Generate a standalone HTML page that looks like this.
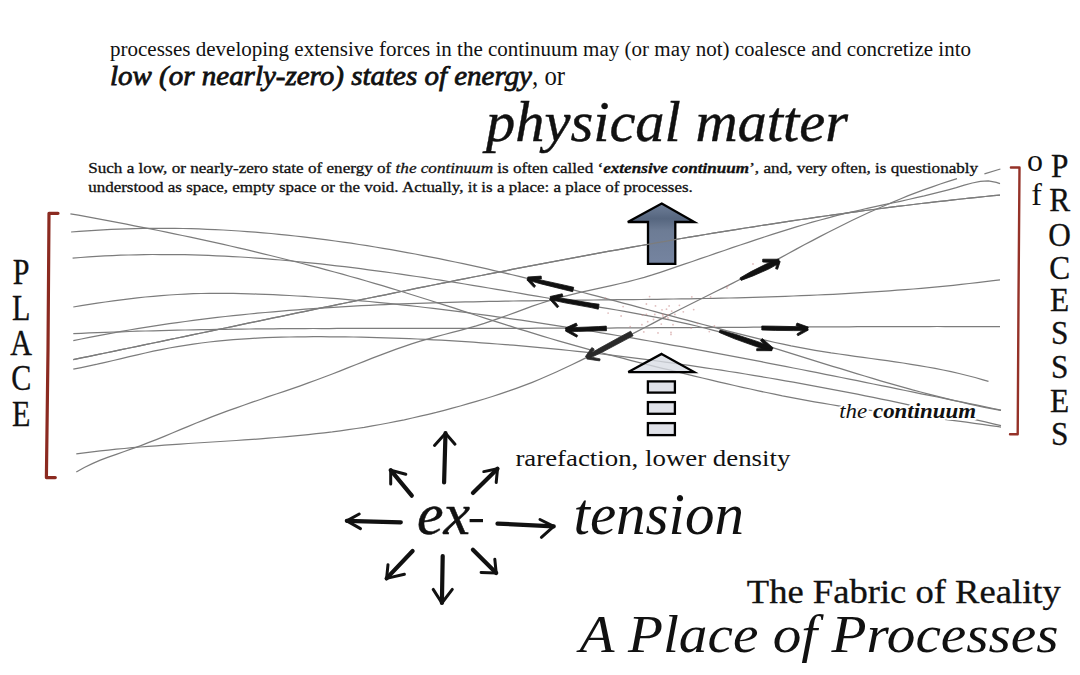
<!DOCTYPE html>
<html><head><meta charset="utf-8"><style>
html,body{margin:0;padding:0;background:#fff;width:1080px;height:675px;overflow:hidden;}
svg{display:block;}
text{font-family:"Liberation Serif",serif;fill:#111;}
</style></head><body>
<svg width="1080" height="675" viewBox="0 0 1080 675">
<rect width="1080" height="675" fill="#fff"/>

<text x="110" y="56.4" font-size="20.5" textLength="861" lengthAdjust="spacingAndGlyphs">processes developing extensive forces in the continuum may (or may not) coalesce and concretize into</text>
<text x="110" y="84.9" font-size="28" font-style="italic" textLength="422" lengthAdjust="spacingAndGlyphs" stroke="#111" stroke-width="0.8">low (or nearly-zero) states of energy</text>
<text x="532" y="84.9" font-size="28" textLength="33" lengthAdjust="spacingAndGlyphs">, or</text>
<text x="486" y="140.6" font-size="56" font-style="italic" textLength="362" lengthAdjust="spacingAndGlyphs" stroke="#111" stroke-width="0.4">physical matter</text>
<text x="88.2" y="172.8" font-size="15" textLength="890" stroke="#111" stroke-width="0.3" lengthAdjust="spacingAndGlyphs">Such a low, or nearly-zero state of energy of <tspan font-style="italic">the continuum</tspan> is often called ‘<tspan font-weight="bold" font-style="italic">extensive continuum</tspan>’, and, very often, is questionably</text>
<text x="88.2" y="191.9" font-size="15" textLength="604.6" stroke="#111" stroke-width="0.3" lengthAdjust="spacingAndGlyphs">understood as space, empty space or the void. Actually, it is a place: a place of processes.</text>
<g fill="none" stroke="#7c7c7c" stroke-width="1.25">
<path d="M70.4 213.8 L78.4 215.2 L86.4 216.7 L94.4 218.2 L102.4 219.6 L110.4 221.1 L118.4 222.7 L126.4 224.2 L134.4 225.8 L142.4 227.3 L150.4 228.9 L158.4 230.5 L166.4 232.2 L174.4 233.8 L182.4 235.5 L190.4 237.2 L198.4 238.9 L206.4 240.7 L214.4 242.4 L222.4 244.2 L230.4 246.0 L238.4 247.9 L246.4 249.7 L254.4 251.6 L262.4 253.6 L270.4 255.5 L278.4 257.5 L286.4 259.5 L294.4 261.5 L302.4 263.5 L310.4 265.6 L318.4 267.7 L326.4 269.9 L334.4 272.0 L342.4 274.2 L350.4 276.5 L358.4 278.7 L366.4 281.0 L374.4 283.3 L382.4 285.7 L390.4 288.1 L398.4 290.5 L406.4 293.0 L414.4 295.5 L422.4 298.0 L430.4 300.5 L438.4 303.1 L446.4 305.7 L454.4 308.2 L462.4 310.8 L470.4 313.4 L478.4 316.0 L486.4 318.6 L494.4 321.2 L502.4 323.7 L510.4 326.2 L518.4 328.8 L526.4 331.2 L534.4 333.7 L542.4 336.1 L550.4 338.5 L558.4 340.8 L566.4 343.1 L574.4 345.4 L582.4 347.6 L590.4 349.8 L598.4 352.0 L606.4 354.1 L614.4 356.2 L622.4 358.2 L630.4 360.3 L638.4 362.3 L646.4 364.3 L654.4 366.3 L662.4 368.3 L670.4 370.2 L678.4 372.2 L686.4 374.2 L694.4 376.1 L702.4 378.0 L710.4 379.9 L718.4 381.8 L726.4 383.6 L734.4 385.5 L742.4 387.3 L750.4 389.0 L758.4 390.8 L766.4 392.5 L774.4 394.1 L782.4 395.8 L790.4 397.3 L798.4 398.9 L806.4 400.4 L814.4 401.8 L822.4 403.2 L830.4 404.5 L838.4 405.8 L846.4 407.0 L854.4 408.1 L862.4 409.3 L870.4 410.3 L878.4 411.4 L886.4 412.4 L894.4 413.4 L902.4 414.4 L910.4 415.3 L918.4 416.3 L926.4 417.3 L934.4 418.2 L942.4 419.2 L950.4 420.2 L958.4 421.2 L966.4 422.2 L974.4 423.3 L982.4 424.4 L990.4 425.6 L998.4 426.7 L1001.0 427.1"/>
<path d="M71.1 232.0 L79.1 231.4 L87.1 230.8 L95.1 230.3 L103.1 229.8 L111.1 229.4 L119.1 229.1 L127.1 228.8 L135.1 228.6 L143.1 228.4 L151.1 228.3 L159.1 228.3 L167.1 228.3 L175.1 228.4 L183.1 228.5 L191.1 228.7 L199.1 228.9 L207.1 229.3 L215.1 229.6 L223.1 230.0 L231.1 230.5 L239.1 231.0 L247.1 231.6 L255.1 232.2 L263.1 232.8 L271.1 233.5 L279.1 234.3 L287.1 235.1 L295.1 236.0 L303.1 236.9 L311.1 237.8 L319.1 238.8 L327.1 239.9 L335.1 241.0 L343.1 242.1 L351.1 243.2 L359.1 244.5 L367.1 245.7 L375.1 247.0 L383.1 248.3 L391.1 249.7 L399.1 251.1 L407.1 252.6 L415.1 254.0 L423.1 255.6 L431.1 257.1 L439.1 258.7 L447.1 260.3 L455.1 262.0 L463.1 263.7 L471.1 265.4 L479.1 267.2 L487.1 268.9 L495.1 270.8 L503.1 272.6 L511.1 274.5 L519.1 276.4 L527.1 278.3 L535.1 280.3 L543.1 282.2 L551.1 284.3 L559.1 286.3 L567.1 288.3 L575.1 290.4 L583.1 292.5 L591.1 294.6 L599.1 296.7 L607.1 298.8 L615.1 300.9 L623.1 303.1 L631.1 305.2 L639.1 307.3 L647.1 309.5 L655.1 311.6 L663.1 313.8 L671.1 315.9 L679.1 318.1 L687.1 320.2 L695.1 322.3 L703.1 324.5 L711.1 326.6 L719.1 328.7 L727.1 330.8 L735.1 332.8 L743.1 334.8 L751.1 336.8 L759.1 338.8 L767.1 340.7 L775.1 342.5 L783.1 344.2 L791.1 345.9 L799.1 347.4 L807.1 348.9 L815.1 350.3 L823.1 351.6 L831.1 352.9 L839.1 354.0 L847.1 355.2 L855.1 356.3 L863.1 357.4 L871.1 358.5 L879.1 359.6 L887.1 360.7 L895.1 361.9 L903.1 363.0 L911.1 364.3 L919.1 365.6 L927.1 367.0 L935.1 368.4 L943.1 370.0 L951.1 371.7 L959.1 373.5 L967.1 375.5 L975.1 377.5 L983.1 379.8 L988.5 381.4"/>
<path d="M72.6 258.1 L80.6 257.5 L88.6 256.9 L96.6 256.4 L104.6 255.9 L112.6 255.6 L120.6 255.2 L128.6 255.0 L136.6 254.8 L144.6 254.6 L152.6 254.5 L160.6 254.5 L168.6 254.5 L176.6 254.6 L184.6 254.7 L192.6 254.9 L200.6 255.2 L208.6 255.4 L216.6 255.8 L224.6 256.1 L232.6 256.6 L240.6 257.0 L248.6 257.5 L256.6 258.1 L264.6 258.7 L272.6 259.3 L280.6 260.0 L288.6 260.7 L296.6 261.5 L304.6 262.3 L312.6 263.1 L320.6 263.9 L328.6 264.8 L336.6 265.8 L344.6 266.7 L352.6 267.7 L360.6 268.7 L368.6 269.8 L376.6 270.8 L384.6 271.9 L392.6 273.0 L400.6 274.2 L408.6 275.3 L416.6 276.5 L424.6 277.7 L432.6 279.0 L440.6 280.2 L448.6 281.5 L456.6 282.7 L464.6 284.0 L472.6 285.3 L480.6 286.7 L488.6 288.0 L496.6 289.3 L504.6 290.7 L512.6 292.0 L520.6 293.4 L528.6 294.8 L536.6 296.2 L544.6 297.5 L552.6 298.9 L560.6 300.3 L568.6 301.7 L576.6 303.1 L584.6 304.5 L592.6 305.9 L600.6 307.3 L608.6 308.6 L616.6 310.0 L624.6 311.4 L632.6 312.8 L640.6 314.3 L648.6 315.8 L656.6 317.3 L664.6 318.9 L672.6 320.6 L680.6 322.3 L688.6 324.1 L696.6 326.0 L704.6 328.0 L712.6 330.1 L720.6 332.2 L728.6 334.5 L736.6 336.7 L744.6 339.1 L752.6 341.5 L760.6 343.9 L768.6 346.4 L776.6 348.8 L784.6 351.3 L792.6 353.8 L800.6 356.3 L808.6 358.8 L816.6 361.3 L824.6 363.8 L832.6 366.3 L840.6 368.7 L848.6 371.2 L856.6 373.6 L864.6 376.0 L872.6 378.4 L880.6 380.8 L888.6 383.1 L896.6 385.4 L904.6 387.6 L912.6 389.9 L920.6 392.0 L928.6 394.1 L936.6 396.2 L944.6 398.2 L952.6 400.1 L960.6 402.0 L968.6 403.8 L976.6 405.6 L984.6 407.3 L992.6 408.9 L1000.6 410.4 L1001.0 410.5"/>
<path d="M73.3 307.0 L81.3 305.7 L89.3 304.4 L97.3 303.2 L105.3 302.0 L113.3 300.9 L121.3 299.8 L129.3 298.8 L137.3 297.9 L145.3 297.0 L153.3 296.3 L161.3 295.6 L169.3 295.0 L177.3 294.5 L185.3 294.1 L193.3 293.7 L201.3 293.5 L209.3 293.4 L217.3 293.3 L225.3 293.4 L233.3 293.4 L241.3 293.6 L249.3 293.8 L257.3 294.1 L265.3 294.4 L273.3 294.7 L281.3 295.1 L289.3 295.5 L297.3 296.0 L305.3 296.4 L313.3 297.0 L321.3 297.5 L329.3 298.1 L337.3 298.7 L345.3 299.4 L353.3 300.1 L361.3 300.8 L369.3 301.5 L377.3 302.3 L385.3 303.1 L393.3 303.9 L401.3 304.8 L409.3 305.6 L417.3 306.5 L425.3 307.5 L433.3 308.4 L441.3 309.4 L449.3 310.4 L457.3 311.4 L465.3 312.4 L473.3 313.5 L481.3 314.6 L489.3 315.7 L497.3 316.8 L505.3 317.9 L513.3 319.1 L521.3 320.2 L529.3 321.4 L537.3 322.6 L545.3 323.8 L553.3 325.1 L561.3 326.3 L569.3 327.6 L577.3 328.8 L585.3 330.1 L593.3 331.5 L601.3 332.8 L609.3 334.1 L617.3 335.5 L625.3 336.8 L633.3 338.2 L641.3 339.6 L649.3 341.0 L657.3 342.4 L665.3 343.8 L673.3 345.3 L681.3 346.7 L689.3 348.2 L697.3 349.6 L705.3 351.1 L713.3 352.6 L721.3 354.1 L729.3 355.6 L737.3 357.1 L745.3 358.7 L753.3 360.2 L761.3 361.7 L769.3 363.3 L777.3 364.8 L785.3 366.4 L793.3 368.0 L801.3 369.5 L809.3 371.1 L817.3 372.7 L825.3 374.3 L833.3 375.9 L841.3 377.5 L849.3 379.1 L857.3 380.7 L865.3 382.4 L873.3 384.0 L881.3 385.6 L889.3 387.2 L897.3 388.9 L905.3 390.5 L913.3 392.1 L921.3 393.8 L929.3 395.4 L937.3 397.0 L945.3 398.7 L953.3 400.3 L961.3 401.9 L969.3 403.6 L977.3 405.2 L985.3 406.9 L993.3 408.5 L1001.0 410.1"/>
<path d="M73.3 333.6 L81.3 333.3 L89.3 332.9 L97.3 332.6 L105.3 332.3 L113.3 332.0 L121.3 331.8 L129.3 331.5 L137.3 331.2 L145.3 331.0 L153.3 330.8 L161.3 330.6 L169.3 330.4 L177.3 330.2 L185.3 330.0 L193.3 329.9 L201.3 329.7 L209.3 329.6 L217.3 329.4 L225.3 329.3 L233.3 329.2 L241.3 329.1 L249.3 329.0 L257.3 328.9 L265.3 328.8 L273.3 328.8 L281.3 328.7 L289.3 328.7 L297.3 328.6 L305.3 328.6 L313.3 328.5 L321.3 328.5 L329.3 328.5 L337.3 328.4 L345.3 328.4 L353.3 328.4 L361.3 328.4 L369.3 328.4 L377.3 328.4 L385.3 328.4 L393.3 328.4 L401.3 328.4 L409.3 328.4 L417.3 328.4 L425.3 328.4 L433.3 328.4 L441.3 328.4 L449.3 328.4 L457.3 328.4 L465.3 328.4 L473.3 328.4 L481.3 328.3 L489.3 328.3 L497.3 328.3 L505.3 328.3 L513.3 328.3 L521.3 328.3 L529.3 328.3 L537.3 328.2 L545.3 328.2 L553.3 328.2 L561.3 328.2 L569.3 328.1 L577.3 328.1 L585.3 328.1 L593.3 328.0 L601.3 328.0 L609.3 328.0 L617.3 327.9 L625.3 327.9 L633.3 327.9 L641.3 327.8 L649.3 327.8 L657.3 327.7 L665.3 327.7 L673.3 327.7 L681.3 327.6 L689.3 327.6 L697.3 327.5 L705.3 327.5 L713.3 327.4 L721.3 327.4 L729.3 327.4 L737.3 327.3 L745.3 327.3 L753.3 327.2 L761.3 327.2 L769.3 327.1 L777.3 327.1 L785.3 327.1 L793.3 327.0 L801.3 327.0 L809.3 326.9 L817.3 326.9 L825.3 326.9 L833.3 326.8 L841.3 326.8 L849.3 326.8 L857.3 326.7 L865.3 326.7 L873.3 326.7 L881.3 326.7 L889.3 326.6 L897.3 326.6 L905.3 326.6 L913.3 326.6 L921.3 326.6 L929.3 326.6 L937.3 326.5 L945.3 326.5 L953.3 326.5 L961.3 326.5 L969.3 326.5 L977.3 326.5 L985.3 326.5 L993.3 326.5 L1000.0 326.5"/>
<path d="M73.3 340.7 L81.3 339.0 L89.3 337.4 L97.3 335.8 L105.3 334.3 L113.3 332.8 L121.3 331.4 L129.3 330.0 L137.3 328.6 L145.3 327.3 L153.3 326.1 L161.3 324.9 L169.3 323.7 L177.3 322.6 L185.3 321.5 L193.3 320.4 L201.3 319.4 L209.3 318.4 L217.3 317.4 L225.3 316.5 L233.3 315.7 L241.3 314.8 L249.3 314.0 L257.3 313.2 L265.3 312.5 L273.3 311.8 L281.3 311.1 L289.3 310.4 L297.3 309.8 L305.3 309.2 L313.3 308.6 L321.3 308.1 L329.3 307.6 L337.3 307.1 L345.3 306.6 L353.3 306.1 L361.3 305.7 L369.3 305.3 L377.3 304.9 L385.3 304.6 L393.3 304.2 L401.3 303.9 L409.3 303.6 L417.3 303.3 L425.3 303.1 L433.3 302.8 L441.3 302.6 L449.3 302.4 L457.3 302.1 L465.3 301.9 L473.3 301.8 L481.3 301.6 L489.3 301.4 L497.3 301.3 L505.3 301.1 L513.3 301.0 L521.3 300.9 L529.3 300.8 L537.3 300.7 L545.3 300.6 L553.3 300.5 L561.3 300.4 L569.3 300.3 L577.3 300.2 L585.3 300.1 L593.3 300.0 L601.3 299.9 L609.3 299.8 L617.3 299.7 L625.3 299.7 L633.3 299.6 L641.3 299.5 L649.3 299.4 L657.3 299.3 L665.3 299.2 L673.3 299.0 L681.3 298.9 L689.3 298.8 L697.3 298.6 L705.3 298.5 L713.3 298.3 L721.3 298.2 L729.3 298.0 L737.3 297.8 L745.3 297.6 L753.3 297.4 L761.3 297.1 L769.3 296.9 L777.3 296.6 L785.3 296.3 L793.3 296.0 L801.3 295.7 L809.3 295.4 L817.3 295.0 L825.3 294.7 L833.3 294.3 L841.3 293.8 L849.3 293.4 L857.3 292.9 L865.3 292.4 L873.3 291.9 L881.3 291.4 L889.3 290.8 L897.3 290.2 L905.3 289.6 L913.3 289.0 L921.3 288.3 L929.3 287.6 L937.3 286.8 L945.3 286.1 L953.3 285.3 L961.3 284.4 L969.3 283.5 L977.3 282.6 L985.3 281.7 L993.3 280.7 L1000.0 279.9"/>
<path d="M73.3 359.6 L81.3 357.9 L89.3 356.3 L97.3 354.6 L105.3 353.0 L113.3 351.3 L121.3 349.7 L129.3 348.0 L137.3 346.3 L145.3 344.7 L153.3 343.0 L161.3 341.3 L169.3 339.7 L177.3 338.0 L185.3 336.3 L193.3 334.7 L201.3 333.0 L209.3 331.3 L217.3 329.6 L225.3 328.0 L233.3 326.3 L241.3 324.6 L249.3 322.9 L257.3 321.3 L265.3 319.6 L273.3 317.9 L281.3 316.3 L289.3 314.6 L297.3 312.9 L305.3 311.3 L313.3 309.6 L321.3 307.9 L329.3 306.3 L337.3 304.6 L345.3 303.0 L353.3 301.3 L361.3 299.7 L369.3 298.0 L377.3 296.4 L385.3 294.8 L393.3 293.1 L401.3 291.5 L409.3 289.9 L417.3 288.2 L425.3 286.6 L433.3 285.0 L441.3 283.4 L449.3 281.8 L457.3 280.2 L465.3 278.6 L473.3 277.0 L481.3 275.5 L489.3 273.9 L497.3 272.3 L505.3 270.8 L513.3 269.2 L521.3 267.7 L529.3 266.1 L537.3 264.6 L545.3 263.1 L553.3 261.6 L561.3 260.1 L569.3 258.6 L577.3 257.1 L585.3 255.6 L593.3 254.1 L601.3 252.7 L609.3 251.2 L617.3 249.8 L625.3 248.3 L633.3 246.9 L641.3 245.5 L649.3 244.1 L657.3 242.7 L665.3 241.3 L673.3 239.9 L681.3 238.5 L689.3 237.2 L697.3 235.8 L705.3 234.5 L713.3 233.2 L721.3 231.9 L729.3 230.6 L737.3 229.3 L745.3 228.0 L753.3 226.8 L761.3 225.5 L769.3 224.3 L777.3 223.1 L785.3 221.9 L793.3 220.7 L801.3 219.5 L809.3 218.3 L817.3 217.2 L825.3 216.0 L833.3 214.9 L841.3 213.8 L849.3 212.7 L857.3 211.6 L865.3 210.5 L873.3 209.5 L881.3 208.5 L889.3 207.4 L897.3 206.4 L905.3 205.5 L913.3 204.5 L921.3 203.5 L929.3 202.6 L937.3 201.7 L945.3 200.8 L953.3 199.9 L961.3 199.0 L969.3 198.2 L977.3 197.3 L985.3 196.5 L993.3 195.7 L1000.0 195.1"/>
<path d="M73.3 369.2 L81.3 367.6 L89.3 365.9 L97.3 364.2 L105.3 362.3 L113.3 360.5 L121.3 358.6 L129.3 356.7 L137.3 354.8 L145.3 353.0 L153.3 351.2 L161.3 349.6 L169.3 348.0 L177.3 346.6 L185.3 345.3 L193.3 344.1 L201.3 343.0 L209.3 342.0 L217.3 341.2 L225.3 340.4 L233.3 339.7 L241.3 339.1 L249.3 338.6 L257.3 338.1 L265.3 337.7 L273.3 337.4 L281.3 337.2 L289.3 337.0 L297.3 336.9 L305.3 336.8 L313.3 336.7 L321.3 336.7 L329.3 336.8 L337.3 336.8 L345.3 336.9 L353.3 337.0 L361.3 337.2 L369.3 337.4 L377.3 337.6 L385.3 337.8 L393.3 338.1 L401.3 338.4 L409.3 338.7 L417.3 339.0 L425.3 339.4 L433.3 339.8 L441.3 340.2 L449.3 340.7 L457.3 341.2 L465.3 341.7 L473.3 342.2 L481.3 342.8 L489.3 343.3 L497.3 344.0 L505.3 344.6 L513.3 345.2 L521.3 345.9 L529.3 346.6 L537.3 347.4 L545.3 348.1 L553.3 348.9 L561.3 349.7 L569.3 350.5 L577.3 351.3 L585.3 352.2 L593.3 353.1 L601.3 354.0 L609.3 354.9 L617.3 355.9 L625.3 356.9 L633.3 357.9 L641.3 358.9 L649.3 359.9 L657.3 361.0 L665.3 362.1 L673.3 363.2 L681.3 364.3 L689.3 365.4 L697.3 366.6 L705.3 367.8 L713.3 369.0 L721.3 370.2 L729.3 371.5 L737.3 372.7 L745.3 374.0 L753.3 375.3 L761.3 376.7 L769.3 378.0 L777.3 379.4 L785.3 380.8 L793.3 382.2 L801.3 383.6 L809.3 385.1 L817.3 386.6 L825.3 388.1 L833.3 389.6 L841.3 391.1 L849.3 392.7 L857.3 394.2 L865.3 395.8 L873.3 397.4 L881.3 399.1 L889.3 400.7 L897.3 402.4 L905.3 404.1 L913.3 405.8 L921.3 407.5 L929.3 409.2 L937.3 411.0 L945.3 412.8 L953.3 414.6 L961.3 416.4 L969.3 418.2 L977.3 420.1 L985.3 421.9 L993.3 423.8 L1001.0 425.7"/>
<path d="M76.3 472.0 L84.3 467.5 L92.3 463.6 L100.3 460.2 L108.3 457.1 L116.3 454.3 L124.3 451.5 L132.3 448.7 L140.3 445.8 L148.3 442.7 L156.3 439.6 L164.3 436.3 L172.3 433.0 L180.3 429.7 L188.3 426.3 L196.3 423.0 L204.3 419.8 L212.3 416.6 L220.3 413.6 L228.3 410.6 L236.3 407.8 L244.3 405.0 L252.3 402.2 L260.3 399.5 L268.3 396.7 L276.3 394.0 L284.3 391.3 L292.3 388.6 L300.3 385.8 L308.3 382.9 L316.3 380.0 L324.3 377.0 L332.3 374.0 L340.3 370.8 L348.3 367.7 L356.3 364.5 L364.3 361.3 L372.3 358.2 L380.3 355.1 L388.3 352.1 L396.3 349.1 L404.3 346.3 L412.3 343.6 L420.3 341.1 L428.3 338.8 L436.3 336.6 L444.3 334.5 L452.3 332.4 L460.3 330.3 L468.3 328.2 L476.3 325.9 L484.3 323.4 L492.3 320.7 L500.3 317.9 L508.3 315.0 L516.3 312.1 L524.3 309.1 L532.3 306.2 L540.3 303.5 L548.3 300.9 L556.3 298.5 L564.3 296.3 L572.3 294.3 L580.3 292.4 L588.3 290.6 L596.3 288.8 L604.3 287.1 L612.3 285.3 L620.3 283.5 L628.3 281.6 L636.3 279.5 L644.3 277.3 L652.3 274.9 L660.3 272.3 L668.3 269.6 L676.3 266.9 L684.3 264.2 L692.3 261.5 L700.3 258.7 L708.3 256.0 L716.3 253.2 L724.3 250.5 L732.3 247.7 L740.3 245.0 L748.3 242.3 L756.3 239.6 L764.3 237.0 L772.3 234.4 L780.3 231.8 L788.3 229.3 L796.3 226.9 L804.3 224.5 L812.3 222.2 L820.3 220.0 L828.3 217.8 L836.3 215.7 L844.3 213.7 L852.3 211.8 L860.3 210.0 L868.3 208.2 L876.3 206.4 L884.3 204.7 L892.3 203.0 L900.3 201.3 L908.3 199.5 L916.3 197.7 L924.3 195.9 L932.3 193.9 L940.3 191.9 L948.3 189.8 L956.3 187.6 L964.3 185.2 L972.3 183.0 L980.3 181.4 L988.3 181.0 L996.3 182.3 L1000.0 183.6"/>
<path d="M76.3 453.9 L84.3 452.9 L92.3 451.9 L100.3 450.9 L108.3 450.1 L116.3 449.2 L124.3 448.5 L132.3 447.7 L140.3 447.0 L148.3 446.4 L156.3 445.8 L164.3 445.2 L172.3 444.6 L180.3 444.1 L188.3 443.5 L196.3 443.0 L204.3 442.5 L212.3 442.0 L220.3 441.5 L228.3 441.0 L236.3 440.5 L244.3 439.9 L252.3 439.4 L260.3 438.8 L268.3 438.2 L276.3 437.5 L284.3 436.9 L292.3 436.2 L300.3 435.4 L308.3 434.6 L316.3 433.7 L324.3 432.8 L332.3 431.9 L340.3 430.8 L348.3 429.7 L356.3 428.5 L364.3 427.3 L372.3 425.9 L380.3 424.5 L388.3 423.0 L396.3 421.4 L404.3 419.8 L412.3 418.0 L420.3 416.2 L428.3 414.3 L436.3 412.4 L444.3 410.3 L452.3 408.2 L460.3 406.0 L468.3 403.7 L476.3 401.4 L484.3 399.0 L492.3 396.5 L500.3 393.9 L508.3 391.2 L516.3 388.4 L524.3 385.4 L532.3 382.3 L540.3 379.0 L548.3 375.5 L556.3 372.0 L564.3 368.3 L572.3 364.5 L580.3 360.6 L588.3 356.6 L596.3 352.6 L604.3 348.5 L612.3 344.4 L620.3 340.2 L628.3 336.0 L636.3 331.9 L644.3 327.7 L652.3 323.6 L660.3 319.4 L668.3 315.3 L676.3 311.2 L684.3 307.2 L692.3 303.2 L700.3 299.2 L708.3 295.3 L716.3 291.3 L724.3 287.4 L732.3 283.4 L740.3 279.3 L748.3 275.2 L756.3 270.9 L764.3 266.6 L772.3 262.3 L780.3 257.9 L788.3 253.5 L796.3 249.1 L804.3 244.8 L812.3 240.6 L820.3 236.4 L828.3 232.2 L836.3 228.2 L844.3 224.2 L852.3 220.3 L860.3 216.5 L868.3 212.8 L876.3 209.2 L884.3 205.7 L892.3 202.3 L900.3 199.0 L908.3 195.7 L916.3 192.6 L924.3 189.7 L932.3 186.8 L940.3 184.0 L948.3 181.4 L956.3 178.9 L957.0 178.7"/>
<path d="M984.4 173.8 L1000.4 169"/>
</g>
<defs><linearGradient id="bg" x1="0" y1="0" x2="0" y2="1"><stop offset="0" stop-color="#6f7f99"/><stop offset="0.25" stop-color="#56667f"/><stop offset="0.45" stop-color="#6d7c95"/><stop offset="1" stop-color="#7584a0"/></linearGradient></defs>
<path d="M661.7 203.6 L694.4 222 L675.3 222 L675.3 263.9 L648 263.9 L648 222 L627.8 222 Z" fill="url(#bg)" stroke="#000" stroke-width="2.3" stroke-linejoin="miter"/>
<path d="M661.6 353.9 L694.2 372.1 L628.3 372.1 Z" fill="#d9dce4" fill-opacity="0.78" stroke="#000" stroke-width="2.3"/>
<rect x="647.9" y="381.4" width="27.0" height="11.2" fill="#e0e2e9" stroke="#000" stroke-width="2.3"/>
<rect x="647.9" y="402.1" width="27.0" height="11.7" fill="#e0e2e9" stroke="#000" stroke-width="2.3"/>
<rect x="647.9" y="423.1" width="27.0" height="12.0" fill="#e0e2e9" stroke="#000" stroke-width="2.3"/>
<g fill="none" stroke="#7c7c7c" stroke-width="1.25">
<path d="M73.3 359.6 L81.3 357.9 L89.3 356.3 L97.3 354.6 L105.3 353.0 L113.3 351.3 L121.3 349.7 L129.3 348.0 L137.3 346.3 L145.3 344.7 L153.3 343.0 L161.3 341.3 L169.3 339.7 L177.3 338.0 L185.3 336.3 L193.3 334.7 L201.3 333.0 L209.3 331.3 L217.3 329.6 L225.3 328.0 L233.3 326.3 L241.3 324.6 L249.3 322.9 L257.3 321.3 L265.3 319.6 L273.3 317.9 L281.3 316.3 L289.3 314.6 L297.3 312.9 L305.3 311.3 L313.3 309.6 L321.3 307.9 L329.3 306.3 L337.3 304.6 L345.3 303.0 L353.3 301.3 L361.3 299.7 L369.3 298.0 L377.3 296.4 L385.3 294.8 L393.3 293.1 L401.3 291.5 L409.3 289.9 L417.3 288.2 L425.3 286.6 L433.3 285.0 L441.3 283.4 L449.3 281.8 L457.3 280.2 L465.3 278.6 L473.3 277.0 L481.3 275.5 L489.3 273.9 L497.3 272.3 L505.3 270.8 L513.3 269.2 L521.3 267.7 L529.3 266.1 L537.3 264.6 L545.3 263.1 L553.3 261.6 L561.3 260.1 L569.3 258.6 L577.3 257.1 L585.3 255.6 L593.3 254.1 L601.3 252.7 L609.3 251.2 L617.3 249.8 L625.3 248.3 L633.3 246.9 L641.3 245.5 L649.3 244.1 L657.3 242.7 L665.3 241.3 L673.3 239.9 L681.3 238.5 L689.3 237.2 L697.3 235.8 L705.3 234.5 L713.3 233.2 L721.3 231.9 L729.3 230.6 L737.3 229.3 L745.3 228.0 L753.3 226.8 L761.3 225.5 L769.3 224.3 L777.3 223.1 L785.3 221.9 L793.3 220.7 L801.3 219.5 L809.3 218.3 L817.3 217.2 L825.3 216.0 L833.3 214.9 L841.3 213.8 L849.3 212.7 L857.3 211.6 L865.3 210.5 L873.3 209.5 L881.3 208.5 L889.3 207.4 L897.3 206.4 L905.3 205.5 L913.3 204.5 L921.3 203.5 L929.3 202.6 L937.3 201.7 L945.3 200.8 L953.3 199.9 L961.3 199.0 L969.3 198.2 L977.3 197.3 L985.3 196.5 L993.3 195.7 L1000.0 195.1"/>
</g>
<g fill="#c98a8a" opacity="0.55"><circle cx="605.6" cy="298.1" r="0.9"/><circle cx="623.1" cy="306.6" r="0.9"/><circle cx="608.1" cy="313.1" r="0.9"/><circle cx="621.1" cy="316.0" r="0.9"/><circle cx="646.4" cy="304.0" r="0.9"/><circle cx="655.5" cy="305.9" r="0.9"/><circle cx="669.1" cy="305.9" r="0.9"/><circle cx="679.4" cy="305.3" r="0.9"/><circle cx="662.0" cy="309.8" r="0.9"/><circle cx="666.5" cy="309.2" r="0.9"/><circle cx="671.7" cy="311.1" r="0.9"/><circle cx="683.3" cy="311.8" r="0.9"/><circle cx="642.5" cy="315.0" r="0.9"/><circle cx="646.4" cy="314.4" r="0.9"/><circle cx="654.8" cy="314.4" r="0.9"/><circle cx="662.6" cy="314.4" r="0.9"/><circle cx="667.8" cy="315.0" r="0.9"/><circle cx="674.9" cy="314.4" r="0.9"/><circle cx="647.7" cy="321.7" r="0.9"/><circle cx="653.5" cy="319.5" r="0.9"/><circle cx="661.3" cy="324.1" r="0.9"/><circle cx="673.0" cy="324.7" r="0.9"/><circle cx="641.9" cy="324.7" r="0.9"/><circle cx="630.2" cy="326.7" r="0.9"/><circle cx="643.8" cy="331.9" r="0.9"/><circle cx="658.0" cy="332.9" r="0.9"/><circle cx="671.0" cy="332.5" r="0.9"/><circle cx="671.0" cy="334.4" r="0.9"/><circle cx="691.1" cy="328.0" r="0.9"/><circle cx="709.3" cy="331.6" r="0.9"/><circle cx="714.4" cy="326.0" r="0.9"/><circle cx="697.6" cy="323.4" r="0.9"/><circle cx="693.7" cy="309.6" r="0.9"/><circle cx="691.8" cy="296.9" r="0.9"/><circle cx="710.6" cy="296.9" r="0.9"/><circle cx="649.6" cy="296.6" r="0.9"/><circle cx="728.0" cy="285.8" r="0.9"/><circle cx="665.2" cy="317.6" r="0.9"/><circle cx="663.0" cy="316.0" r="0.9"/><circle cx="668.0" cy="318.0" r="0.9"/><circle cx="727.0" cy="288.0" r="0.9"/><circle cx="753.0" cy="264.0" r="0.9"/></g>
<path d="M58 213.3 L49 213.3 Q48.5 300 48 350 T46.4 477.6 L55.3 477.6" fill="none" stroke="#8b2a20" stroke-width="3.2" stroke-linecap="round" stroke-linejoin="round"/>
<path d="M1010.9 167.5 L1019.5 167.5 Q1019 250 1018.5 300 T1017.7 434.3 L1010 434.3" fill="none" stroke="#953228" stroke-width="2.4" stroke-linecap="round" stroke-linejoin="round"/>
<text x="0" y="0" font-size="35" text-anchor="middle" transform="translate(21.2 284.0) scale(0.86 1)" stroke="#111" stroke-width="0.35">P</text>
<text x="0" y="0" font-size="35" text-anchor="middle" transform="translate(21.2 320.0) scale(0.86 1)" stroke="#111" stroke-width="0.35">L</text>
<text x="0" y="0" font-size="35" text-anchor="middle" transform="translate(21.2 354.7) scale(0.86 1)" stroke="#111" stroke-width="0.35">A</text>
<text x="0" y="0" font-size="35" text-anchor="middle" transform="translate(21.2 390.0) scale(0.86 1)" stroke="#111" stroke-width="0.35">C</text>
<text x="0" y="0" font-size="35" text-anchor="middle" transform="translate(21.2 426.3) scale(0.86 1)" stroke="#111" stroke-width="0.35">E</text>
<text x="0" y="0" font-size="33" text-anchor="middle" transform="translate(1059.6 177.4) scale(0.95 1)" stroke="#111" stroke-width="0.3">P</text>
<text x="0" y="0" font-size="33" text-anchor="middle" transform="translate(1059.6 211.0) scale(0.95 1)" stroke="#111" stroke-width="0.3">R</text>
<text x="0" y="0" font-size="33" text-anchor="middle" transform="translate(1059.6 245.5) scale(0.95 1)" stroke="#111" stroke-width="0.3">O</text>
<text x="0" y="0" font-size="33" text-anchor="middle" transform="translate(1059.6 278.7) scale(0.95 1)" stroke="#111" stroke-width="0.3">C</text>
<text x="0" y="0" font-size="33" text-anchor="middle" transform="translate(1059.6 310.8) scale(0.95 1)" stroke="#111" stroke-width="0.3">E</text>
<text x="0" y="0" font-size="33" text-anchor="middle" transform="translate(1059.6 344.3) scale(0.95 1)" stroke="#111" stroke-width="0.3">S</text>
<text x="0" y="0" font-size="33" text-anchor="middle" transform="translate(1059.6 378.3) scale(0.95 1)" stroke="#111" stroke-width="0.3">S</text>
<text x="0" y="0" font-size="33" text-anchor="middle" transform="translate(1059.6 411.6) scale(0.95 1)" stroke="#111" stroke-width="0.3">E</text>
<text x="0" y="0" font-size="33" text-anchor="middle" transform="translate(1059.6 445.0) scale(0.95 1)" stroke="#111" stroke-width="0.3">S</text>
<text x="1035" y="170.8" font-size="32" text-anchor="middle">o</text>
<text x="1036.5" y="205.2" font-size="32" text-anchor="middle">f</text>
<g>
<path d="M573.7 287.3 L564.6 285.2 L541.9 280.2 L531.8 278.4 L528.1 278.1 L527.7 279.7 L531.2 281.1 L541.1 283.9 L563.6 289.5 L572.7 291.7 Z" fill="#111" stroke="#111" stroke-width="0.8" stroke-linejoin="round"/><path d="M528.1 280.8 L541.4 278.9 L541.2 276.1 L527.7 277.0 Z" fill="#111" stroke="#111" stroke-width="0.8" stroke-linejoin="round"/><path d="M526.8 279.8 L534.0 287.5 L535.6 286.1 L529.0 278.0 Z" fill="#111" stroke="#111" stroke-width="0.8" stroke-linejoin="round"/>
<path d="M599.1 304.2 L591.9 303.3 L565.4 298.8 L554.7 297.4 L550.7 297.5 L550.5 299.1 L554.2 300.5 L564.7 302.8 L591.1 307.6 L598.3 309.2 Z" fill="#111" stroke="#111" stroke-width="0.8" stroke-linejoin="round"/><path d="M551.1 300.1 L563.0 296.4 L562.2 293.8 L550.1 296.5 Z" fill="#111" stroke="#111" stroke-width="0.8" stroke-linejoin="round"/><path d="M549.5 299.2 L557.2 307.8 L558.8 306.4 L551.7 297.4 Z" fill="#111" stroke="#111" stroke-width="0.8" stroke-linejoin="round"/>
<path d="M606.3 326.1 L598.3 326.6 L578.1 327.4 L569.3 328.0 L566.1 328.9 L566.1 330.7 L569.4 331.4 L578.3 331.4 L598.4 330.8 L606.5 330.7 Z" fill="#111" stroke="#111" stroke-width="0.8" stroke-linejoin="round"/><path d="M567.0 331.5 L577.4 325.5 L576.2 323.1 L565.2 328.1 Z" fill="#111" stroke="#111" stroke-width="0.8" stroke-linejoin="round"/><path d="M565.4 331.0 L576.7 337.2 L577.7 335.4 L566.8 328.6 Z" fill="#111" stroke="#111" stroke-width="0.8" stroke-linejoin="round"/>
<path d="M630.7 331.2 L621.7 336.0 L599.3 348.3 L589.7 354.1 L586.6 356.8 L587.4 358.4 L591.4 357.3 L601.6 352.5 L624.1 340.6 L633.1 335.8 Z" fill="#2a2a2a" stroke="#2a2a2a" stroke-width="0.8" stroke-linejoin="round"/><path d="M588.6 358.6 L594.2 349.0 L591.8 347.6 L585.4 356.6 Z" fill="#2a2a2a" stroke="#2a2a2a" stroke-width="0.8" stroke-linejoin="round"/><path d="M586.8 359.0 L599.7 360.9 L600.1 358.9 L587.2 356.2 Z" fill="#2a2a2a" stroke="#2a2a2a" stroke-width="0.8" stroke-linejoin="round"/>
<path d="M741.1 280.4 L753.0 275.9 L768.6 269.1 L776.0 265.0 L779.3 262.0 L778.5 260.2 L774.1 260.8 L766.2 264.0 L751.0 271.6 L739.9 278.0 Z" fill="#111" stroke="#111" stroke-width="0.8" stroke-linejoin="round"/><path d="M779.0 259.2 L762.7 259.2 L762.7 262.0 L778.8 263.0 Z" fill="#111" stroke="#111" stroke-width="0.8" stroke-linejoin="round"/><path d="M777.6 260.7 L775.6 268.7 L777.6 269.3 L780.2 261.5 Z" fill="#111" stroke="#111" stroke-width="0.8" stroke-linejoin="round"/>
<path d="M761.8 330.0 L775.5 330.4 L793.8 330.6 L803.0 330.6 L807.6 329.9 L807.6 327.9 L803.1 327.0 L793.9 326.6 L775.6 326.2 L761.8 326.0 Z" fill="#111" stroke="#111" stroke-width="0.8" stroke-linejoin="round"/><path d="M808.3 327.1 L797.0 323.0 L796.0 325.6 L806.9 330.7 Z" fill="#111" stroke="#111" stroke-width="0.8" stroke-linejoin="round"/><path d="M806.9 327.7 L796.9 334.0 L797.9 335.8 L808.3 330.1 Z" fill="#111" stroke="#111" stroke-width="0.8" stroke-linejoin="round"/>
<path d="M719.2 332.4 L734.5 338.8 L755.4 346.3 L765.9 349.8 L771.5 350.4 L772.3 348.2 L767.5 345.2 L757.1 341.4 L736.0 334.5 L720.0 330.0 Z" fill="#111" stroke="#111" stroke-width="0.8" stroke-linejoin="round"/><path d="M773.2 347.9 L762.2 338.5 L760.4 340.5 L770.6 350.7 Z" fill="#111" stroke="#111" stroke-width="0.8" stroke-linejoin="round"/><path d="M771.9 347.9 L756.7 348.7 L756.7 350.7 L771.9 350.7 Z" fill="#111" stroke="#111" stroke-width="0.8" stroke-linejoin="round"/>
<path d="M444.1 482.5 L445.5 433.2" stroke="#111" stroke-width="4.2" stroke-linecap="round" fill="none"/><path d="M434.5 445.5 L445.5 433.2 L455.0 444.2" stroke="#111" stroke-width="3.0" stroke-linecap="round" stroke-linejoin="round" fill="none"/>
<path d="M411.8 495.7 L390.7 470.2" stroke="#111" stroke-width="4.2" stroke-linecap="round" fill="none"/><path d="M390.7 483.9 L390.7 470.2 L405.8 474.3" stroke="#111" stroke-width="3.0" stroke-linecap="round" stroke-linejoin="round" fill="none"/>
<path d="M472.9 492.9 L497.5 468.8" stroke="#111" stroke-width="4.2" stroke-linecap="round" fill="none"/><path d="M483.8 471.6 L497.5 468.8 L496.2 482.5" stroke="#111" stroke-width="3.0" stroke-linecap="round" stroke-linejoin="round" fill="none"/>
<path d="M400.8 522.3 L346.8 520.9" stroke="#111" stroke-width="4.2" stroke-linecap="round" fill="none"/><path d="M359.2 514.0 L346.8 520.9 L360.5 528.6" stroke="#111" stroke-width="3.0" stroke-linecap="round" stroke-linejoin="round" fill="none"/>
<path d="M497.5 523.6 L553.7 526.4" stroke="#111" stroke-width="4.2" stroke-linecap="round" fill="none"/><path d="M540.0 519.5 L553.7 526.4 L541.4 537.3" stroke="#111" stroke-width="3.0" stroke-linecap="round" stroke-linejoin="round" fill="none"/>
<path d="M412.6 551.0 L386.6 578.4" stroke="#111" stroke-width="4.2" stroke-linecap="round" fill="none"/><path d="M388.0 564.7 L386.6 578.4 L404.4 574.3" stroke="#111" stroke-width="3.0" stroke-linecap="round" stroke-linejoin="round" fill="none"/>
<path d="M442.7 556.0 L441.9 603.0" stroke="#111" stroke-width="4.2" stroke-linecap="round" fill="none"/><path d="M433.2 589.4 L441.9 603.0 L452.3 589.4" stroke="#111" stroke-width="3.0" stroke-linecap="round" stroke-linejoin="round" fill="none"/>
<path d="M472.9 549.7 L496.2 573.0" stroke="#111" stroke-width="4.2" stroke-linecap="round" fill="none"/><path d="M494.8 559.2 L496.2 573.0 L481.1 572.4" stroke="#111" stroke-width="3.0" stroke-linecap="round" stroke-linejoin="round" fill="none"/>
</g>
<text x="839.2" y="417.5" font-size="22" font-style="italic" textLength="137" lengthAdjust="spacingAndGlyphs" stroke="#fff" stroke-width="4" paint-order="stroke" stroke-linejoin="round">the <tspan font-weight="bold">continuum</tspan></text>
<text x="515.4" y="465.6" font-size="24" textLength="275" lengthAdjust="spacingAndGlyphs">rarefaction, lower density</text>
<text x="417" y="534.3" font-size="59" font-style="italic" textLength="53" lengthAdjust="spacingAndGlyphs" stroke="#111" stroke-width="0.5">ex</text>
<path d="M469.6 520.6 L483 520.6" stroke="#111" stroke-width="3.2" fill="none"/>
<text x="573.5" y="533.7" font-size="60" font-style="italic" textLength="170.5" lengthAdjust="spacingAndGlyphs">tension</text>
<text x="746.8" y="602.6" font-size="33" textLength="314" lengthAdjust="spacingAndGlyphs" stroke="#111" stroke-width="0.3">The Fabric of Reality</text>
<text x="579.6" y="652.4" font-size="52" font-style="italic" textLength="479" lengthAdjust="spacingAndGlyphs">A Place of Processes</text>
</svg></body></html>
